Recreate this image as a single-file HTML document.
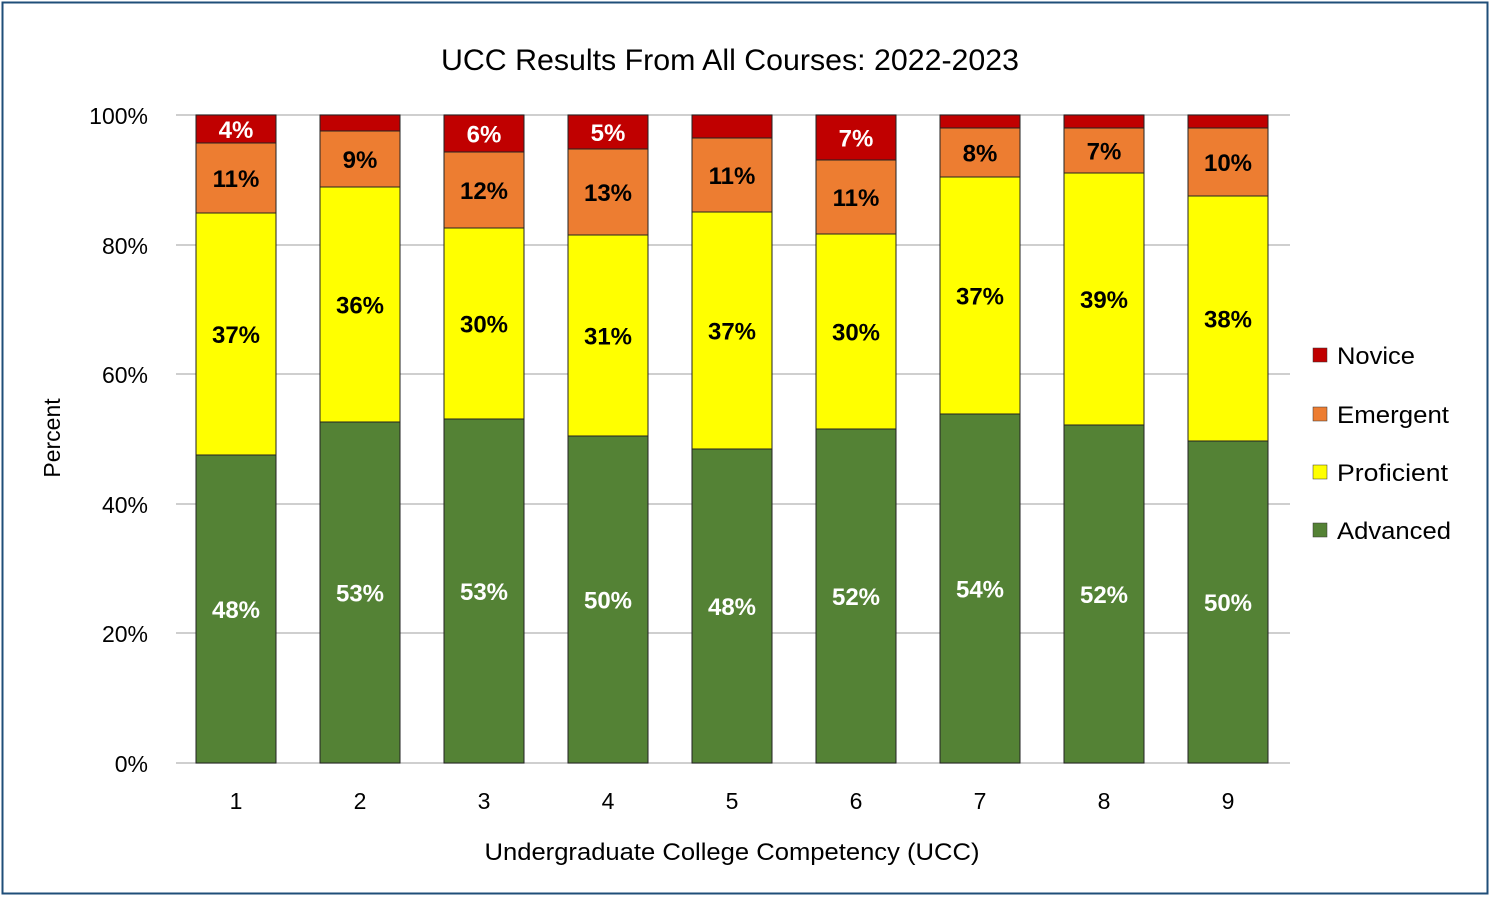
<!DOCTYPE html>
<html><head><style>body{margin:0;background:#fff}</style></head><body>
<svg width="1491" height="897" xmlns="http://www.w3.org/2000/svg" font-family="'Liberation Sans',sans-serif">
<rect x="0" y="0" width="1491" height="897" fill="#fff"/>
<rect x="2.5" y="2.5" width="1485" height="891" fill="none" stroke="#1f4e79" stroke-width="2"/>
<text x="730" y="70" font-size="30" text-anchor="middle" fill="#000" textLength="578" lengthAdjust="spacingAndGlyphs">UCC Results From All Courses: 2022-2023</text>
<g stroke="#bfbfbf" stroke-width="1.5">
<line x1="176" y1="115" x2="1290" y2="115"/><line x1="176" y1="245" x2="1290" y2="245"/>
<line x1="176" y1="374" x2="1290" y2="374"/><line x1="176" y1="504" x2="1290" y2="504"/>
<line x1="176" y1="633" x2="1290" y2="633"/><line x1="176" y1="763" x2="1290" y2="763"/>
</g>
<g font-size="23" text-anchor="end" fill="#000">
<text x="148" y="124">100%</text><text x="148" y="254">80%</text><text x="148" y="383">60%</text>
<text x="148" y="513">40%</text><text x="148" y="642">20%</text><text x="148" y="772">0%</text>
</g>
<text transform="translate(60,438) rotate(-90)" font-size="23" text-anchor="middle">Percent</text>
<text x="732" y="860" font-size="24" text-anchor="middle" textLength="495" lengthAdjust="spacingAndGlyphs">Undergraduate College Competency (UCC)</text>
<g id="bars" stroke="#222" stroke-width="1"></g>
<g font-size="23" text-anchor="middle" fill="#000" id="xl"></g>
<g font-size="24" font-weight="bold" text-anchor="middle" id="lbl"></g>
<g font-size="24">
<rect x="1313" y="348" width="14" height="14" fill="#c00000" stroke="#333" stroke-width="0.5"/><text x="1337" y="364" textLength="78" lengthAdjust="spacingAndGlyphs">Novice</text>
<rect x="1313" y="407" width="14" height="14" fill="#ed7d31" stroke="#333" stroke-width="0.5"/><text x="1337" y="423" textLength="112" lengthAdjust="spacingAndGlyphs">Emergent</text>
<rect x="1313" y="465" width="14" height="14" fill="#ffff00" stroke="#333" stroke-width="0.5"/><text x="1337" y="481" textLength="111" lengthAdjust="spacingAndGlyphs">Proficient</text>
<rect x="1313" y="523" width="14" height="14" fill="#548235" stroke="#333" stroke-width="0.5"/><text x="1337" y="539" textLength="114" lengthAdjust="spacingAndGlyphs">Advanced</text>
</g>
<script>
var d=[[455,213,143,"48%","37%","11%","4%"],[422,187,131,"53%","36%","9%",""],[419,228,152,"53%","30%","12%","6%"],[436,235,149,"50%","31%","13%","5%"],[449,212,138,"48%","37%","11%",""],[429,234,160,"52%","30%","11%","7%"],[414,177,128,"54%","37%","8%",""],[425,173,128,"52%","39%","7%",""],[441,196,128,"50%","38%","10%",""]];
var ns="http://www.w3.org/2000/svg",b=document.getElementById("bars"),l=document.getElementById("lbl"),xl=document.getElementById("xl");
function r(x,y1,y2,c){var e=document.createElementNS(ns,"rect");e.setAttribute("x",x);e.setAttribute("y",y1);e.setAttribute("width",80);e.setAttribute("height",y2-y1);e.setAttribute("fill",c);b.appendChild(e);}
function t(p,x,y,s,c){var e=document.createElementNS(ns,"text");e.setAttribute("x",x);e.setAttribute("y",y);e.setAttribute("fill",c);e.textContent=s;p.appendChild(e);}
d.forEach(function(v,i){var cx=236+124*i,x=cx-40;
r(x,v[0],763,"#548235");r(x,v[1],v[0],"#ffff00");r(x,v[2],v[1],"#ed7d31");r(x,115,v[2],"#c00000");
t(l,cx,(v[0]+763)/2+9,v[3],"#fff");t(l,cx,(v[1]+v[0])/2+9,v[4],"#000");t(l,cx,(v[2]+v[1])/2+9,v[5],"#000");
if(v[6])t(l,cx,(115+v[2])/2+9,v[6],"#fff");t(xl,cx,809,String(i+1),"#000");});
</script>
</svg>
</body></html>
